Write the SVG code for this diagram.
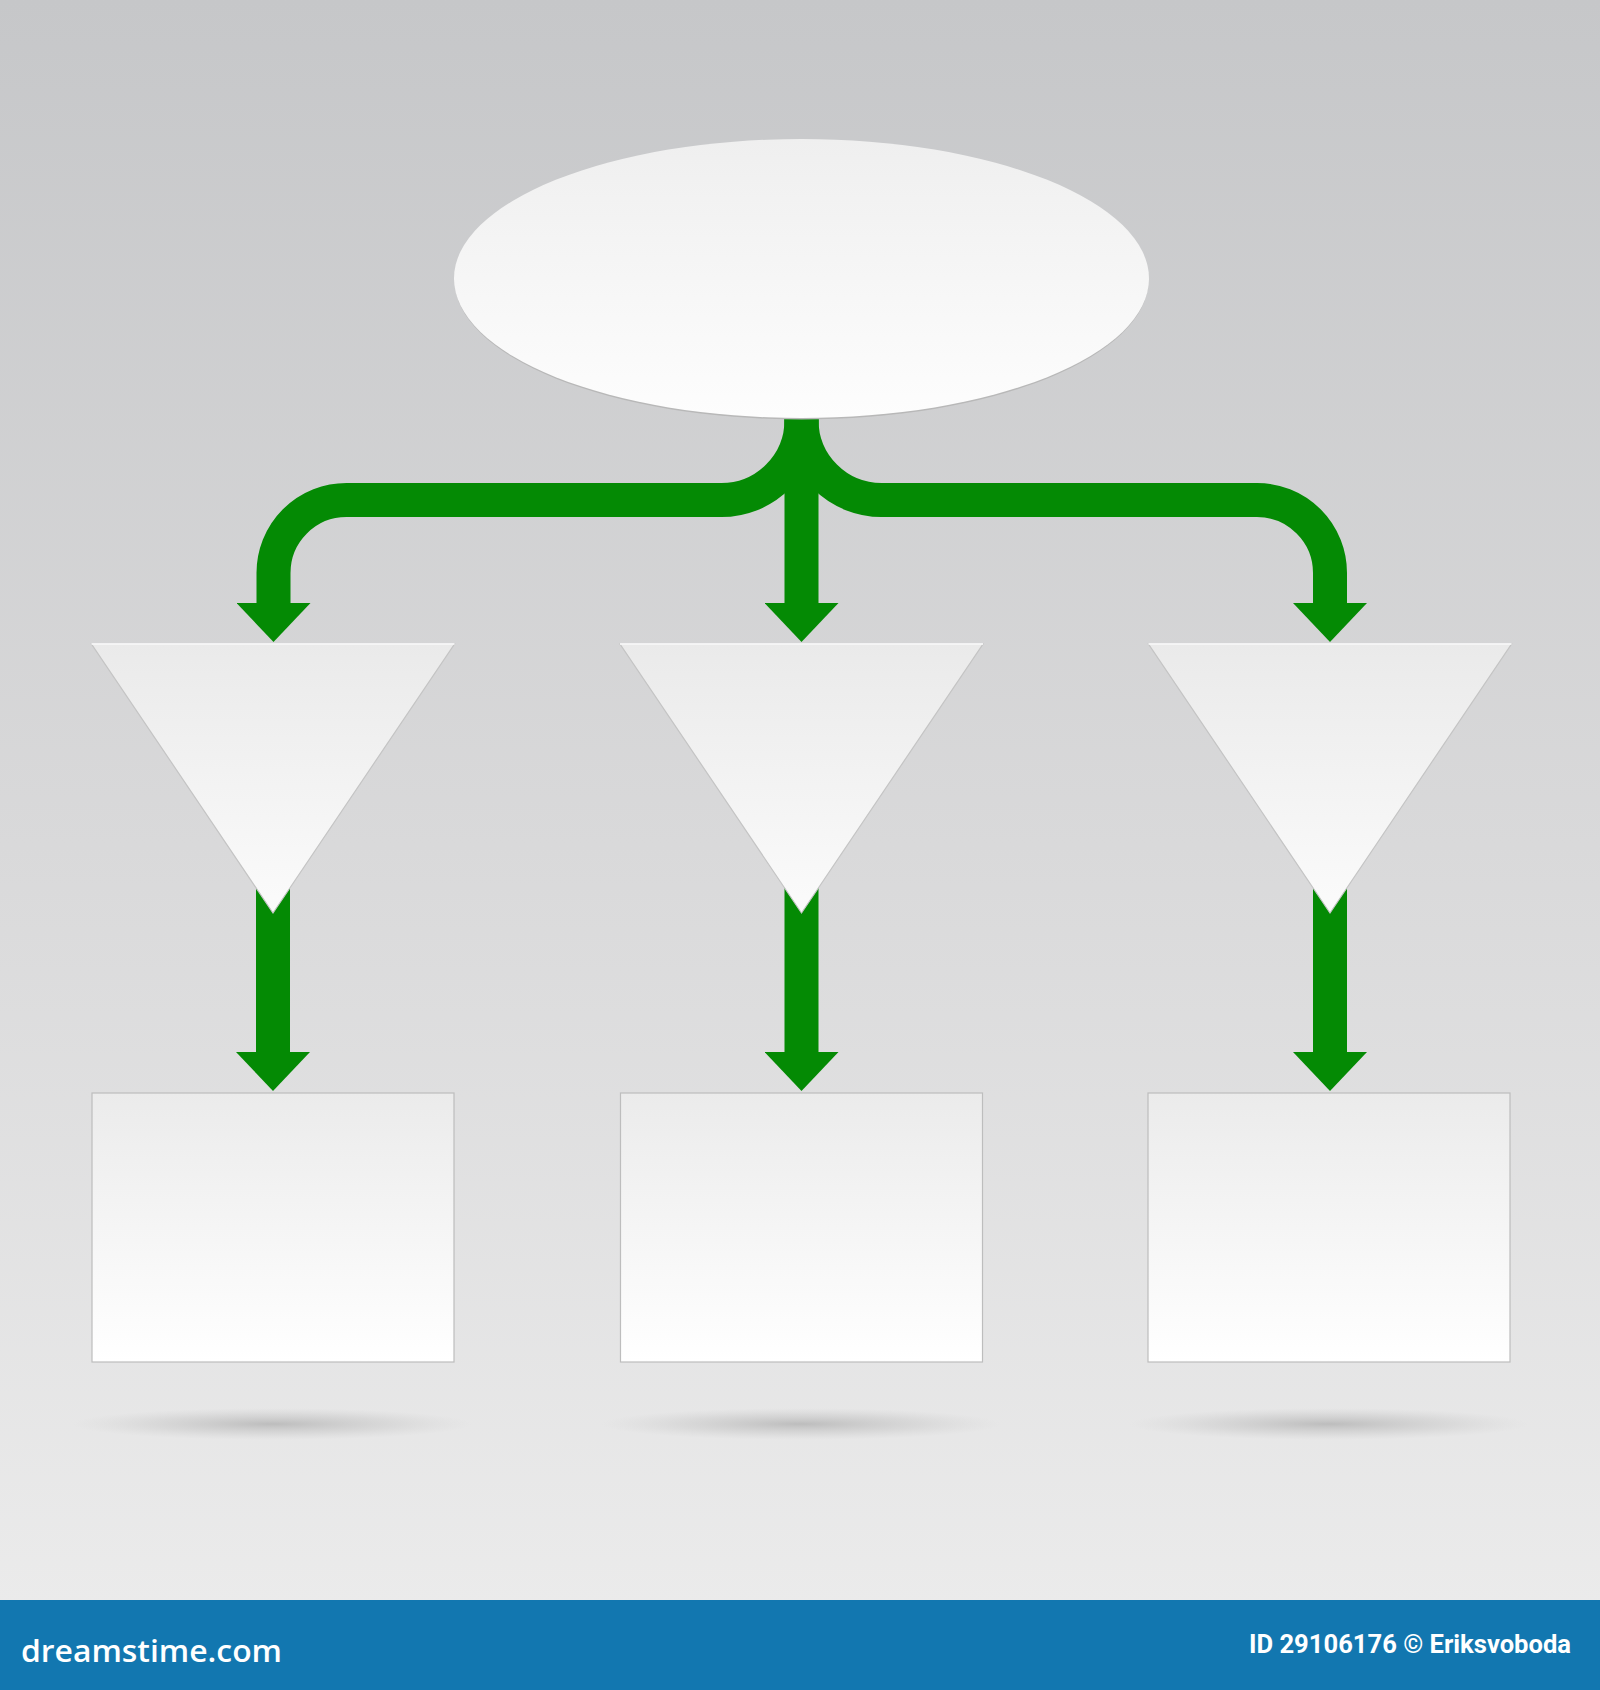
<svg xmlns="http://www.w3.org/2000/svg" width="1600" height="1690" viewBox="0 0 1600 1690">
  <style>
    .conn { fill: none; stroke: #048a04; stroke-width: 34; stroke-linejoin: round; }
    .tri { fill: url(#gTri); stroke: #c4c4c4; stroke-width: 1.2; }
    .box { fill: url(#gBox); stroke: #bdbdbd; stroke-width: 1.2; }
    .footer { fill: #ffffff; }
  </style>
  <defs>
    <linearGradient id="gBg" x1="0" y1="0" x2="0" y2="1">
      <stop offset="0" stop-color="#c6c7c9"/>
      <stop offset="0.5" stop-color="#d9d9da"/>
      <stop offset="1" stop-color="#ededed"/>
    </linearGradient>
    <linearGradient id="gEll" x1="0" y1="0" x2="0" y2="1">
      <stop offset="0" stop-color="#efefef"/>
      <stop offset="1" stop-color="#fdfdfd"/>
    </linearGradient>
    <linearGradient id="gTri" x1="0" y1="0" x2="0" y2="1">
      <stop offset="0" stop-color="#eaeaea"/>
      <stop offset="1" stop-color="#fbfbfb"/>
    </linearGradient>
    <linearGradient id="gBox" x1="0" y1="0" x2="0" y2="1">
      <stop offset="0" stop-color="#ebebeb"/>
      <stop offset="1" stop-color="#ffffff"/>
    </linearGradient>
    <radialGradient id="gShadow" cx="0.5" cy="0.5" r="0.5">
      <stop offset="0" stop-color="#9a9a9a" stop-opacity="0.55"/>
      <stop offset="0.6" stop-color="#b0b0b0" stop-opacity="0.25"/>
      <stop offset="1" stop-color="#c0c0c0" stop-opacity="0"/>
    </radialGradient>
    <marker id="arrow" markerUnits="userSpaceOnUse" viewBox="0 -37 39 74" refX="0" refY="0" markerWidth="39" markerHeight="74" orient="auto">
      <path d="M0,-37 L39,0 L0,37 Z" fill="#048a04"/>
    </marker>
  </defs>

  <rect x="0" y="0" width="1600" height="1690" fill="url(#gBg)"/>

  <!-- shadows under boxes -->
  <g id="shadows">
    <ellipse cx="272" cy="1424" rx="200" ry="16" fill="url(#gShadow)"/>
    <ellipse cx="801" cy="1424" rx="200" ry="16" fill="url(#gShadow)"/>
    <ellipse cx="1329" cy="1424" rx="200" ry="16" fill="url(#gShadow)"/>
  </g>

  <g id="connectors">
    <path class="conn" d="M801.5,400 L801.5,420 A80,80 0 0 1 721.5,500 L346.5,500 A73,73 0 0 0 273.5,573 L273.5,603" marker-end="url(#arrow)"/>
    <path class="conn" d="M801.5,400 L801.5,420 A80,80 0 0 0 881.5,500 L1257,500 A73,73 0 0 1 1330,573 L1330,603" marker-end="url(#arrow)"/>
    <path class="conn" d="M801.5,400 L801.5,603" marker-end="url(#arrow)"/>
    <path class="conn" d="M273,880 L273,1052" marker-end="url(#arrow)"/>
    <path class="conn" d="M801.5,880 L801.5,1052" marker-end="url(#arrow)"/>
    <path class="conn" d="M1330,880 L1330,1052" marker-end="url(#arrow)"/>
  </g>

  <g id="node-ellipse">
    <ellipse cx="801.5" cy="280" rx="347" ry="139.5" fill="#b8b8b8"/>
    <ellipse cx="801.5" cy="278.5" rx="347.5" ry="139.5" fill="url(#gEll)"/>
  </g>

  <g id="node-triangle-1">
    <polygon class="tri" points="91.5,644 454.5,644 273,913"/>
    <line x1="91.5" y1="644" x2="454.5" y2="644" stroke="#ffffff" stroke-width="1.5"/>
  </g>
  <g id="node-triangle-2">
    <polygon class="tri" points="620,644 983,644 801.5,913"/>
    <line x1="620" y1="644" x2="983" y2="644" stroke="#ffffff" stroke-width="1.5"/>
  </g>
  <g id="node-triangle-3">
    <polygon class="tri" points="1148.5,644 1511.5,644 1330,913"/>
    <line x1="1148.5" y1="644" x2="1511.5" y2="644" stroke="#ffffff" stroke-width="1.5"/>
  </g>

  <g id="node-box-1">
    <rect class="box" x="92" y="1093" width="362" height="269"/>
  </g>
  <g id="node-box-2">
    <rect class="box" x="620.5" y="1093" width="362" height="269"/>
  </g>
  <g id="node-box-3">
    <rect class="box" x="1148" y="1093" width="362" height="269"/>
  </g>

  <g id="footer">
    <rect x="0" y="1600" width="1600" height="90" fill="#1277b0"/>
    <text class="footer" x="21" y="1662" font-family="'Open Sans', 'Liberation Sans', sans-serif" font-weight="600" font-size="31" textLength="261" lengthAdjust="spacingAndGlyphs">dreamstime.com</text>
    <text class="footer" x="1249" y="1653" font-family="Roboto, 'Liberation Sans', sans-serif" font-weight="bold" font-size="25" textLength="322" lengthAdjust="spacingAndGlyphs">ID 29106176 © Eriksvoboda</text>
  </g>
</svg>
